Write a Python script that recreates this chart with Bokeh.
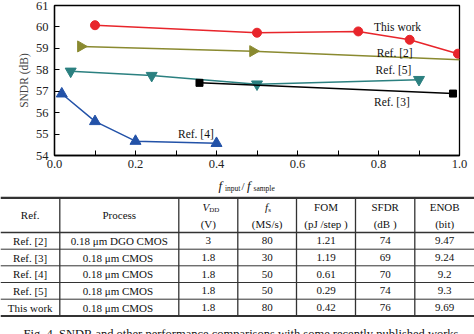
from bokeh.plotting import figure
from bokeh.layouts import column
from bokeh.models import Range1d, Label, FixedTicker, PrintfTickFormatter
from bokeh.core.properties import value
from bokeh.embed import file_html
from bokeh.resources import INLINE
import math

SERIF = "Liberation Serif"

# ---------------- data ----------------
this_x = [0.10, 0.50, 0.75, 0.877, 0.996]
this_y = [60.08, 59.73, 59.79, 59.40, 58.75]
ref2_x = [0.065, 0.49, 1.03]
ref2_y = [59.09, 58.87, 58.45]
ref5_x = [0.04, 0.24, 0.50, 0.90]
ref5_y = [57.93, 57.73, 57.33, 57.54]
ref3_x = [0.358, 0.984]
ref3_y = [57.39, 56.89]
ref4_x = [0.018, 0.10, 0.20, 0.40]
ref4_y = [56.88, 55.59, 54.67, 54.57]

x_ticks = [0.0, 0.2, 0.4, 0.6, 0.8, 1.0]
x_minor = [0.1, 0.3, 0.5, 0.7, 0.9]
y_ticks = [54, 55, 56, 57, 58, 59, 60, 61]

series_labels = ["This work", "Ref. [2]", "Ref. [5]", "Ref. [3]", "Ref. [4]"]
series_label_x = [0.847, 0.84, 0.837, 0.833, 0.349]
series_label_y = [60.02, 58.79, 57.97, 56.49, 55.00]

tbl_ref = ["Ref. [2]", "Ref. [3]", "Ref. [4]", "Ref. [5]", "This work"]
tbl_process = ["0.18 \u03bcm DGO CMOS", "0.18  \u03bcm CMOS", "0.18  \u03bcm CMOS",
               "0.18  \u03bcm CMOS", "0.18  \u03bcm CMOS"]
tbl_vdd = ["3", "1.8", "1.8", "1.8", "1.8"]
tbl_fs = ["80", "30", "50", "50", "80"]
tbl_fom = ["1.21", "1.19", "0.61", "0.29", "0.42"]
tbl_sfdr = ["74", "69", "70", "74", "76"]
tbl_enob = ["9.47", "9.24", "9.2", "9.3", "9.69"]

caption = "Fig. 4. SNDR and other performance comparisons with some recently published works"

RED = "#e8252b"
OLIVE = "#8a8a30"
TEAL = "#2b8080"
BLACK = "#000000"
BLUE = "#2352a8"
TXT = "#111111"

# ---------------- chart ----------------
p1 = figure(width=474, height=172, x_range=Range1d(0, 1), y_range=Range1d(54, 61),
            output_backend="svg", toolbar_location=None,
            min_border_left=54, min_border_right=15, min_border_top=5, min_border_bottom=17)
p1.frame_align = False
p1.grid.visible = False
p1.outline_line_color = "black"
p1.outline_line_width = 1.3
p1.background_fill_color = "white"
p1.border_fill_color = "white"

xa = p1.xaxis[0]
xa.ticker = FixedTicker(ticks=x_ticks, minor_ticks=x_minor)
xa.formatter = PrintfTickFormatter(format="%.1f")
ya = p1.yaxis[0]
ya.ticker = FixedTicker(ticks=y_ticks)
for ax in (xa, ya):
    ax.major_tick_in = 5
    ax.major_tick_out = 0
    ax.minor_tick_in = 5
    ax.minor_tick_out = 0
    ax.major_label_text_font = SERIF
    ax.major_label_text_font_size = "12.5px"
    ax.major_label_text_color = "#222222"
    ax.axis_line_color = "black"
    ax.axis_line_width = 1.3
    ax.major_tick_line_color = "black"
    ax.minor_tick_line_color = "black"
ya.minor_tick_line_color = None
xa.major_label_standoff = 4
ya.major_label_standoff = 6
ya.axis_label = "SNDR (dB)"
ya.axis_label_text_font = SERIF
ya.axis_label_text_font_style = "normal"
ya.axis_label_text_font_size = "11.5px"
ya.axis_label_standoff = 3

p1.line(this_x, this_y, color=RED, line_width=1.5)
p1.scatter(this_x, this_y, marker="circle", size=9, color=RED)
p1.line(ref2_x, ref2_y, color=OLIVE, line_width=1.5)
p1.scatter(ref2_x, ref2_y, marker="triangle", angle=-math.pi / 2, size=11, color=OLIVE)
p1.line(ref5_x, ref5_y, color=TEAL, line_width=1.5)
p1.scatter(ref5_x, ref5_y, marker="inverted_triangle", size=11, color=TEAL)
p1.line(ref3_x, ref3_y, color=BLACK, line_width=1.5)
p1.scatter(ref3_x, ref3_y, marker="square", size=7, color=BLACK)
p1.line(ref4_x, ref4_y, color=BLUE, line_width=1.5)
p1.scatter(ref4_x, ref4_y, marker="triangle", size=11, color=BLUE)

for t, lx, ly in zip(series_labels, series_label_x, series_label_y):
    p1.add_layout(Label(x=lx, y=ly, text=t, text_font=SERIF, text_font_size="11.5px",
                        text_align="center", text_baseline="middle", text_color=TXT))

# ---------------- x label, table, caption (page-pixel coordinates) ----------------
p2 = figure(width=474, height=162, x_range=Range1d(0, 474), y_range=Range1d(334, 172),
            output_backend="svg", toolbar_location=None,
            x_axis_type=None, y_axis_type=None, min_border=0)
p2.frame_align = False
p2.grid.visible = False
p2.outline_line_color = None
p2.background_fill_color = "white"
p2.border_fill_color = "white"

xlabel_parts = [("f", "italic", "13px", 218, 185),
                ("input", "normal", "7.5px", 224.5, 188),
                ("/", "normal", "11px", 241, 185),
                ("f", "italic", "13px", 246.5, 185),
                ("sample", "normal", "7.5px", 253, 188)]
for t, st, fs, px, py in xlabel_parts:
    p2.text(x=[px], y=[py], text=[t], text_font=value(SERIF), text_font_style=st,
            text_font_size=fs, text_align="left", text_baseline="alphabetic", text_color=TXT)

col_edges = [0, 59.3, 178.3, 237.3, 296, 355, 414.3, 474]
row_edges = [197.3, 232.0, 248.7, 265.3, 282.0, 298.7, 315.5]
row_widths = [2.2, 1.3, 1.0, 1.0, 1.0, 1.0, 2.2]
LINE = "#333333"
FS = "11px"

p2.segment(x0=[0] * len(row_edges), x1=[474] * len(row_edges), y0=row_edges, y1=row_edges,
           line_width=row_widths, color=LINE)
vx = col_edges[1:-1]
p2.segment(x0=vx, x1=vx, y0=[row_edges[0]] * len(vx), y1=[row_edges[-1]] * len(vx),
           line_width=1.3, color=LINE)

col_c = [(a + b) / 2 for a, b in zip(col_edges[:-1], col_edges[1:])]
row_c = [(a + b) / 2 for a, b in zip(row_edges[1:-1], row_edges[2:])]
columns = [tbl_ref, tbl_process, tbl_vdd, tbl_fs, tbl_fom, tbl_sfdr, tbl_enob]
for ci, col in enumerate(columns):
    p2.text(x=[col_c[ci]] * len(col), y=row_c, text=col, text_font=value(SERIF),
            text_font_size=FS, text_align="center", text_baseline="middle", text_color=TXT)

# header
h1 = row_edges[0] + 9
h2 = row_edges[0] + 26
hmid = (row_edges[0] + row_edges[1]) / 2
for t, x in [("Ref.", col_c[0]), ("Process", col_c[1])]:
    p2.text(x=[x], y=[hmid], text=[t], text_font=value(SERIF), text_font_size=FS,
            text_align="center", text_baseline="middle", text_color=TXT)
for t, x in [("FOM", col_c[4]), ("SFDR", col_c[5]), ("ENOB", col_c[6])]:
    p2.text(x=[x], y=[h1], text=[t], text_font=value(SERIF), text_font_size=FS,
            text_align="center", text_baseline="middle", text_color=TXT)
for t, x in [("(V)", col_c[2]), ("(MS/s)", col_c[3]), ("(pJ /step )", col_c[4]),
             ("(dB )", col_c[5]), ("(bit)", col_c[6])]:
    p2.text(x=[x], y=[h2], text=[t], text_font=value(SERIF), text_font_size=FS,
            text_align="center", text_baseline="middle", text_color=TXT)
# V_DD and f_s with subscripts
p2.text(x=[col_c[2] + 1], y=[h1], text=["V"], text_font=value(SERIF), text_font_style="italic",
        text_font_size=FS, text_align="right", text_baseline="middle", text_color=TXT)
p2.text(x=[col_c[2] + 1], y=[h1 + 3], text=["DD"], text_font=value(SERIF),
        text_font_size="7px", text_align="left", text_baseline="middle", text_color=TXT)
p2.text(x=[col_c[3] + 1], y=[h1], text=["f"], text_font=value(SERIF), text_font_style="italic",
        text_font_size=FS, text_align="right", text_baseline="middle", text_color=TXT)
p2.text(x=[col_c[3] + 1], y=[h1 + 3], text=["s"], text_font=value(SERIF),
        text_font_size="7px", text_align="left", text_baseline="middle", text_color=TXT)

# caption (cut by the bottom of the picture, as in the reference)
p2.text(x=[23], y=[326.5], text=[caption], text_font=value(SERIF), text_font_size="12.5px",
        text_align="left", text_baseline="top", text_color=TXT)

layout = column(p1, p2, spacing=0)
open("out.html", "w").write(file_html(layout, INLINE))
